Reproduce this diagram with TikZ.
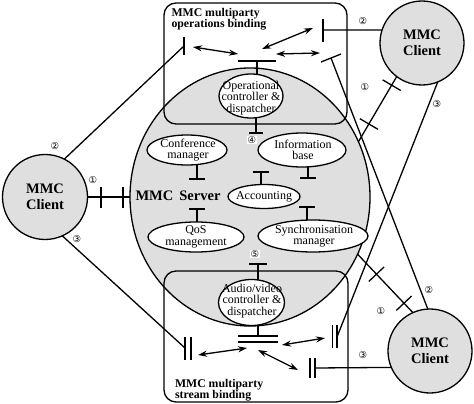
\documentclass[tikz,border=0pt]{standalone}
\usepackage{fontspec}
\setmainfont{Liberation Serif}
\newfontfamily\circfont{DejaVu Sans}
\usetikzlibrary{shapes.geometric,arrows.meta,decorations.markings,calc}
\newcommand\tkmark{\draw[line width=1.3pt] (0,-10.5pt) -- (0,10.5pt);}
\begin{document}
\begin{tikzpicture}[x=1pt,y=-1pt,
  line width=1.3pt,
  every node/.style={inner sep=0pt,outer sep=0pt},
  srvshape/.style={ellipse,draw,fill=gray!25},
  comp/.style={ellipse,draw,fill=white},
  client/.style={circle,draw,fill=gray!25,minimum size=84pt,font=\bfseries\fontsize{14.5}{16}\selectfont,align=center},
  bind/.style={draw,rounded corners=12pt},
  lbl/.style={font=\fontsize{12}{11.5}\selectfont,align=center},
  blbl/.style={font=\bfseries\fontsize{11.8}{11}\selectfont,align=left,anchor=north west},
  num/.style={font=\circfont\fontsize{9.5}{9.5}\selectfont},
  numw/.style={num,fill=white,inner sep=0.6pt},
  dbl/.style={{Stealth[length=9pt,width=6pt]}-{Stealth[length=9pt,width=6pt]}},
  ticked/.style={postaction={decorate},decoration={markings,#1}},
]
\useasboundingbox (0,0) rectangle (474,404);

% server
\node[srvshape, minimum width=240pt, minimum height=258pt] (srv) at (250,197) {};
\node[font=\bfseries\fontsize{14.5}{16}\selectfont] (srvtxt) at (178,196) {MMC\hspace{6pt}Server};

% components
\node[comp, minimum width=64pt, minimum height=44pt] (opc) at (251,96) {};
\node[lbl] (opct) at (251,98) {Operational\\controller \&\\dispatcher};
\node[comp, minimum width=80pt, minimum height=30pt] (conf) at (187,150) {};
\node[lbl] (conft) at (188,150) {Conference\\manager};
\node[comp, minimum width=88pt, minimum height=34pt] (info) at (302,150) {};
\node[lbl] (infot) at (303,150) {Information\\base};
\node[comp, minimum width=72pt, minimum height=24pt] (acct) at (264,196.5) {};
\node[lbl] (acctt) at (264,196.5) {Accounting};
\node[comp, minimum width=96pt, minimum height=30pt] (qos) at (196,237) {};
\node[lbl] (qost) at (196,237) {QoS\\management};
\node[comp, minimum width=110pt, minimum height=32pt] (sync) at (313,236) {};
\node[lbl] (synct) at (314,236) {Synchronisation\\manager};
\node[comp, minimum width=66pt, minimum height=46pt] (av) at (251.5,302.5) {};
\node[lbl] (avt) at (252,301) {Audio/video\\controller \&\\dispatcher};

% interface stems and bars
\coordinate (opTop) at (257,61);
\draw (opTop) -- (opTop |- opc.north);
\draw (238,61) -- (276,61);
\coordinate (opBot) at (256,133);
\draw (opBot |- opc.south) -- (opBot);
\draw (249,133) -- (263,133);
\coordinate (confB) at (197,179);
\draw (confB |- conf.south) -- (confB);
\draw (189,179) -- (205,179);
\coordinate (infoB) at (308,178);
\draw (infoB |- info.south) -- (infoB);
\draw (300,178) -- (316,178);
\coordinate (acctT) at (261,172);
\draw (acctT) -- (acctT |- acct.north);
\draw (253,172) -- (269,172);
\coordinate (qosT) at (197,209);
\draw (qosT) -- (qosT |- qos.north);
\draw (189,209) -- (205,209);
\coordinate (syncT) at (307,207);
\draw (syncT) -- (syncT |- sync.north);
\draw (299,207) -- (315,207);
\coordinate (avT) at (258,264);
\draw (avT) -- (avT |- av.north);
\draw (249,264) -- (267,264);
\coordinate (avB) at (258,336);
\draw (avB |- av.south) -- (avB);
\draw (238,336) -- (278,336);
\draw (238,342) -- (278,342);

\node[numw] (n4) at (252,140) {④};
\node[numw] (n5) at (255,254) {⑤};

% bindings
\node[bind, minimum width=183pt, minimum height=121pt] (ops) at (255.5,63.5) {};
\node[blbl] (opsl) at (171.5,8) {MMC multiparty\\operations binding};
\node[bind, minimum width=184pt, minimum height=131pt] (str) at (256,336.5) {};
\node[blbl] (strl) at (175,379) {MMC multiparty\\stream binding};

% clients
\node[client, minimum size=85pt] (lc) at (45,197) {MMC\\Client};
\node[client] (trc) at (422,43) {MMC\\Client};
\node[client] (brc) at (430,351) {MMC\\Client};

% binding ports
\coordinate (opL) at (184,46);
\draw (184,37) -- (184,55);
\coordinate (opR) at (323,30);
\draw (323,19) -- (323,42);
\coordinate (opS) at (331,58);
\draw (321,62) -- (341,54);
\coordinate (stL) at (185,348);
\draw (185,337) -- (185,360);
\draw (191,337) -- (191,360);
\coordinate (stR) at (337,337);
\draw (332.5,325) -- (332.5,348);
\draw (337,325) -- (337,348);
\coordinate (stB) at (315,368);
\draw (310,358) -- (310,378);
\draw (315,358) -- (315,378);

% client connections
\draw (lc.63) -- (opL);
\draw[ticked={mark=at position 13.5pt with {\tkmark},mark=at position 35.5pt with {\tkmark}}] (lc.east) -- (lc.east -| srv.west);
\draw (lc.-66) -- (stL);
\draw (trc.162) -- (opR);
\draw[ticked={mark=at position 10pt with {\tkmark},mark=at position 55pt with {\tkmark}}] (trc.-127) -- (srv.27);
\draw (trc.-68) -- (stR);
\draw (brc.93) -- (opS);
\draw[ticked={mark=at position 13pt with {\tkmark},mark=at position 53pt with {\tkmark}}] (brc.114) -- (srv.-28);
\draw (brc.-157) -- (stB);

% binding internal arrows
\coordinate (a1) at (193,47); \coordinate (b1) at (238,54);
\coordinate (a2) at (262,49); \coordinate (b2) at (313,28);
\coordinate (a3) at (276,54); \coordinate (b3) at (320,53);
\draw[dbl] (a1) -- (b1);
\draw[dbl] (a2) -- (b2);
\draw[dbl] (a3) -- (b3);
\coordinate (c1) at (198,355); \coordinate (d1) at (247,348);
\coordinate (c2) at (282,345); \coordinate (d2) at (325,338);
\coordinate (c3) at (258,350); \coordinate (d3) at (298,370);
\draw[dbl] (c1) -- (d1);
\draw[dbl] (c2) -- (d2);
\draw[dbl] (c3) -- (d3);

% connection numbers
\node[num] (l2) at (55,146) {②};
\node[num] (l1) at (93,180) {①};
\node[num] (l3) at (77,239) {③};
\node[num] (r2) at (363,21) {②};
\node[num] (r1) at (365,87) {①};
\node[num] (r3) at (437,104) {③};
\node[num] (b2n) at (429,290) {②};
\node[num] (b1n) at (381,311) {①};
\node[num] (b3n) at (363,355) {③};
\end{tikzpicture}
\end{document}
